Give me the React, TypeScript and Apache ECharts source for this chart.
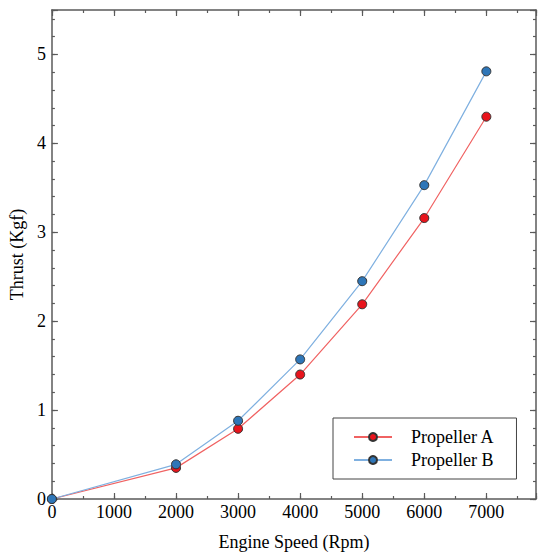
import React, { useEffect, useRef } from "react";
import * as echarts from "echarts";

const speeds = [0, 2000, 3000, 4000, 5000, 6000, 7000];
const propellerA = [0, 0.35, 0.79, 1.4, 2.19, 3.16, 4.3];
const propellerB = [0, 0.39, 0.88, 1.57, 2.45, 3.53, 4.81];

const FONT = "'Liberation Serif', 'Times New Roman', serif";
const AXIS = "#5a5a5a";

const App: React.FC = () => {
  const chartRef = useRef<HTMLDivElement>(null);

  useEffect(() => {
    if (!chartRef.current) return;
    const chart = echarts.init(chartRef.current, undefined, { renderer: "svg" });

    const xBase = { type: "value", min: 0, max: 7800, splitLine: { show: false } };
    const yBase = { type: "value", min: 0, max: 5.5, splitLine: { show: false } };
    const line = { show: true, onZero: false, lineStyle: { color: AXIS, width: 1.5 } };
    const hidden = { show: false, onZero: false };
    const noLabel = { show: false };
    const major = { show: true, inside: true, length: 6, lineStyle: { color: AXIS, width: 1.2 } };
    const minor = { show: true, inside: true, length: 3, lineStyle: { color: AXIS, width: 1.2 } };

    const option = {
      animation: false,
      backgroundColor: "#fff",
      grid: { left: 47, top: 10, right: 14, bottom: 59 },
      xAxis: [
        {
          ...xBase,
          position: "bottom",
          interval: 1000,
          axisLine: line,
          axisTick: major,
          axisLabel: {
            color: "#000",
            fontFamily: FONT,
            fontSize: 18,
            margin: 4,
            lineHeight: 18,
            formatter: (v: number) => (v % 1000 === 0 ? String(v) : ""),
          },
          name: "Engine Speed (Rpm)",
          nameLocation: "middle",
          nameGap: 34,
          nameTextStyle: { color: "#000", fontFamily: FONT, fontSize: 18 },
        },
        { ...xBase, position: "bottom", interval: 500, axisLine: hidden, axisTick: minor, axisLabel: noLabel },
        { ...xBase, position: "top", interval: 1000, axisLine: line, axisTick: major, axisLabel: noLabel },
        { ...xBase, position: "top", interval: 500, axisLine: hidden, axisTick: minor, axisLabel: noLabel },
      ],
      yAxis: [
        {
          ...yBase,
          position: "left",
          interval: 1,
          axisLine: line,
          axisTick: major,
          axisLabel: {
            color: "#000",
            fontFamily: FONT,
            fontSize: 18,
            margin: 6,
            lineHeight: 16,
            formatter: (v: number) => (Number.isInteger(v) ? String(v) : ""),
          },
          name: "Thrust (Kgf)",
          nameLocation: "middle",
          nameGap: 24,
          nameTextStyle: { color: "#000", fontFamily: FONT, fontSize: 18 },
        },
        { ...yBase, position: "left", interval: 0.2, axisLine: hidden, axisTick: minor, axisLabel: noLabel },
        { ...yBase, position: "right", interval: 1, axisLine: line, axisTick: major, axisLabel: noLabel },
        { ...yBase, position: "right", interval: 0.2, axisLine: hidden, axisTick: minor, axisLabel: noLabel },
      ],
      legend: {
        left: 333,
        top: 418,
        orient: "vertical",
        padding: [10, 22, 10, 20],
        itemWidth: 38,
        itemHeight: 10,
        itemGap: 5,
        borderColor: "#444",
        borderWidth: 1,
        backgroundColor: "#fff",
        textStyle: { color: "#000", fontFamily: FONT, fontSize: 18, padding: [0, 0, 0, 14] },
        data: ["Propeller A", "Propeller B"],
      },
      series: [
        {
          name: "Propeller A",
          type: "line",
          data: speeds.map((s, i) => [s, propellerA[i]]),
          symbol: "circle",
          symbolSize: 9,
          lineStyle: { color: "#f06262", width: 1.2 },
          itemStyle: { color: "#e8141c", borderColor: "#333", borderWidth: 1 },
        },
        {
          name: "Propeller B",
          type: "line",
          data: speeds.map((s, i) => [s, propellerB[i]]),
          symbol: "circle",
          symbolSize: 9,
          lineStyle: { color: "#7fb0e0", width: 1.2 },
          itemStyle: { color: "#2e76b8", borderColor: "#333", borderWidth: 1 },
        },
      ],
    };

    chart.setOption(option as any);

    return () => {
      chart.dispose();
    };
  }, []);

  return (
    <div
      ref={chartRef}
      style={{ position: "fixed", left: 0, top: 0, width: "550px", height: "558px" }}
    />
  );
};

export default App;
